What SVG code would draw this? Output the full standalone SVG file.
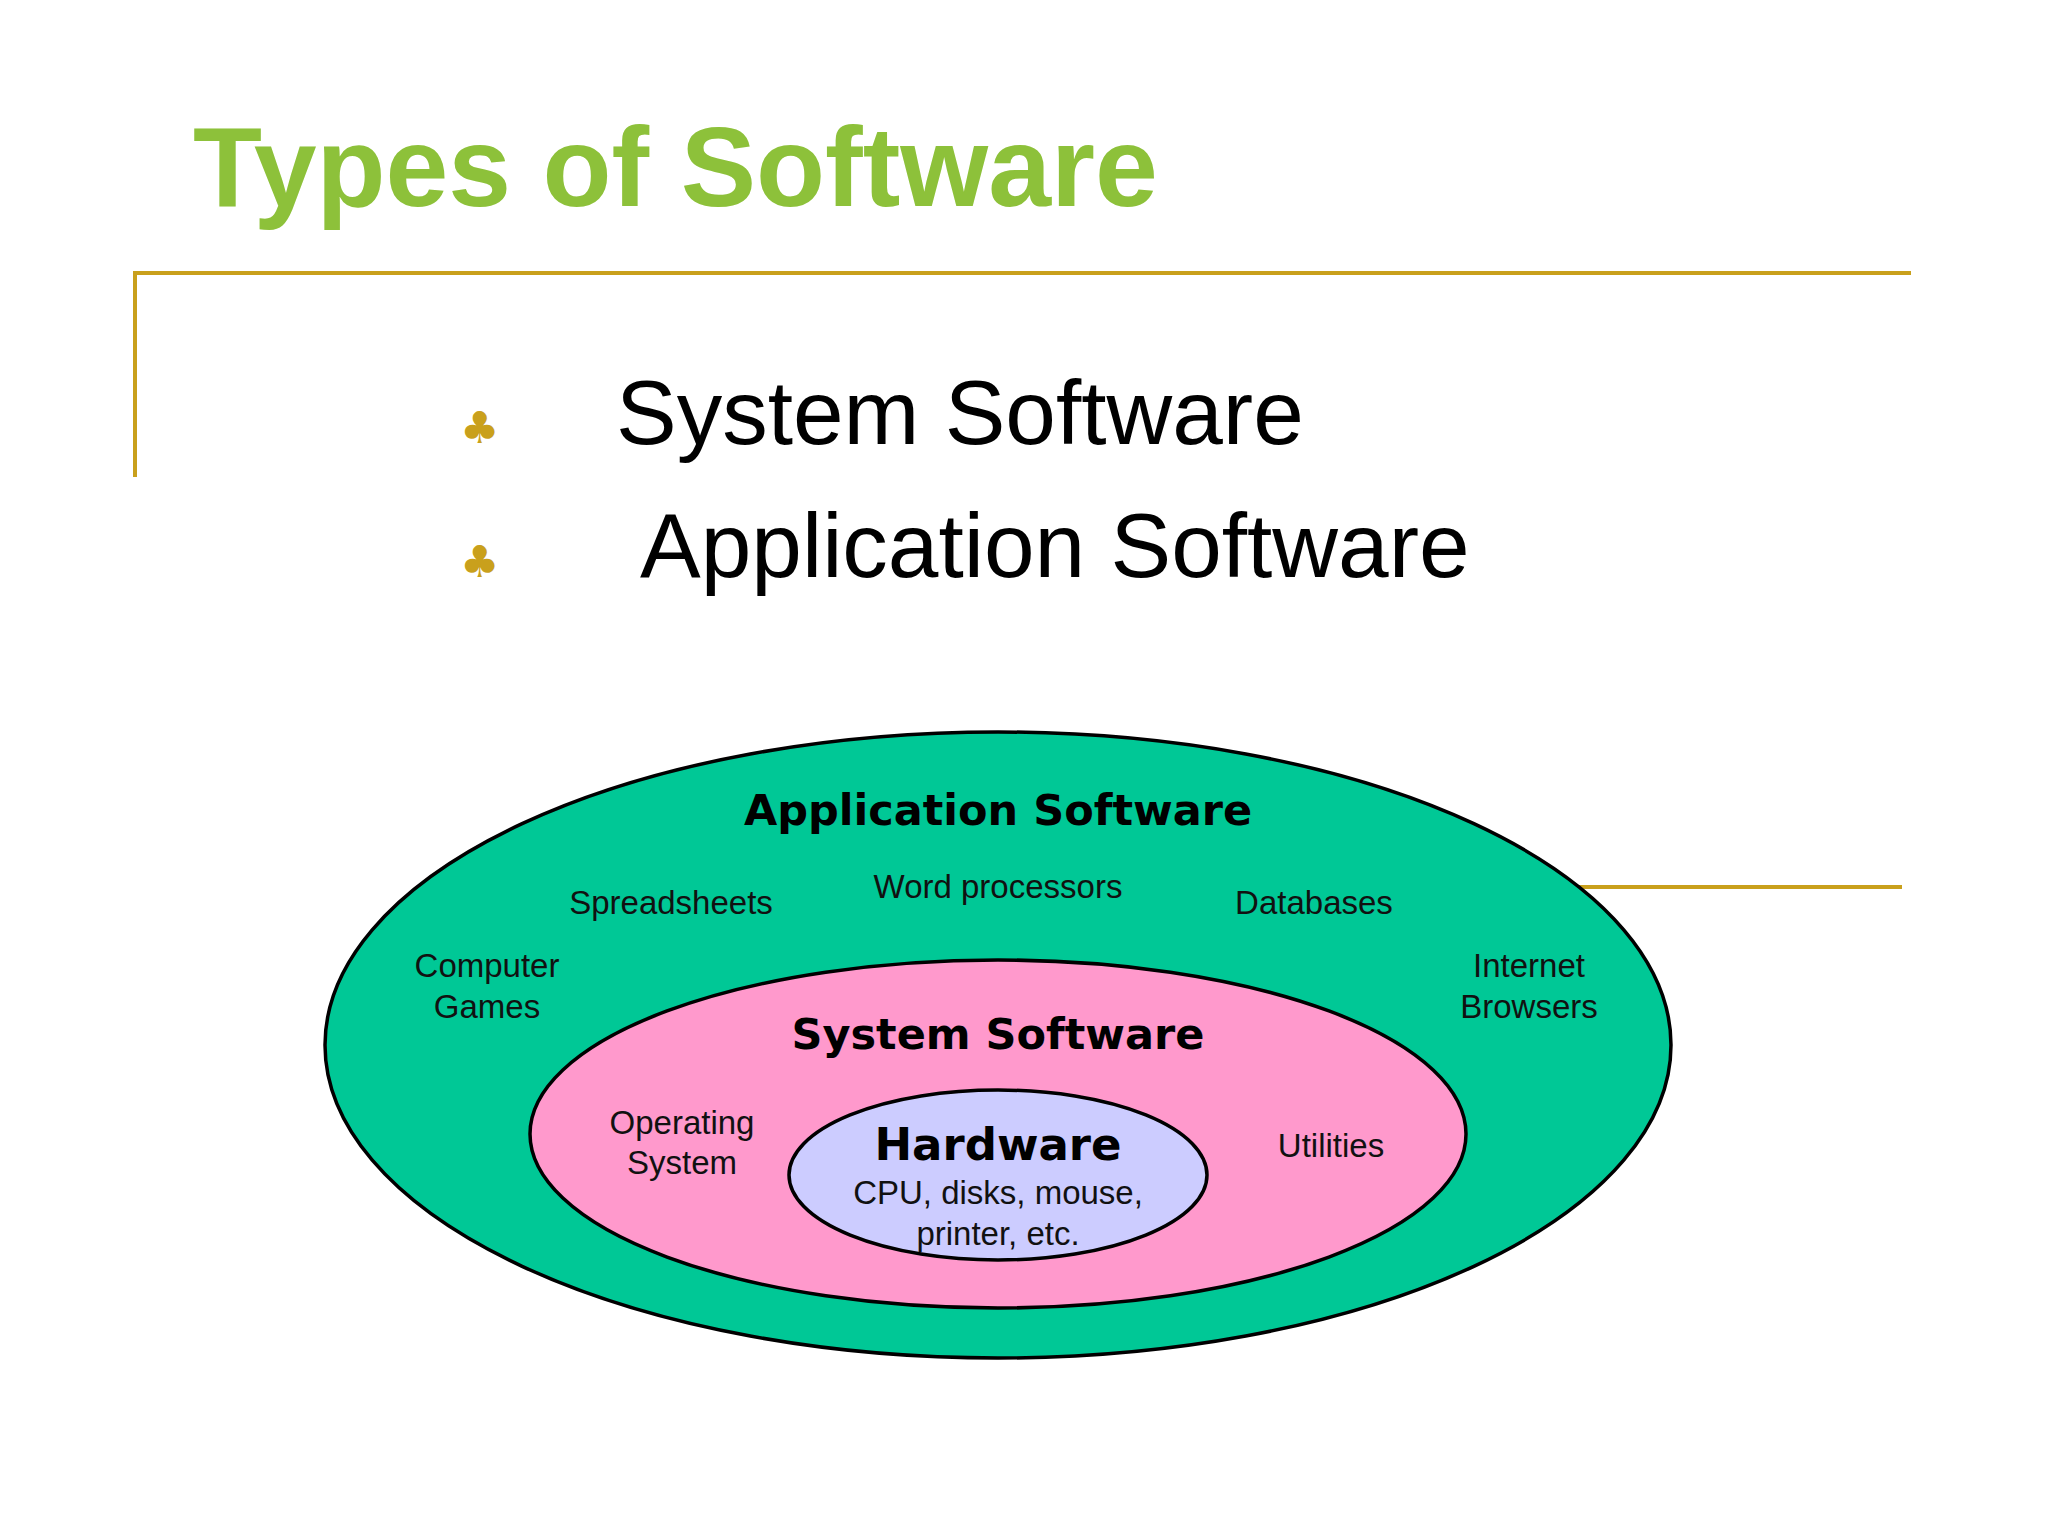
<svg xmlns="http://www.w3.org/2000/svg" width="2048" height="1536" viewBox="0 0 2048 1536">
<style>
.gold{stroke:#c9a01c;stroke-width:4;fill:none}
.ell{stroke:#000;stroke-width:3.5}
.lbl{font-family:"Liberation Sans",Arial,sans-serif;font-size:33px;fill:#111;text-anchor:middle}
.hd{font-family:"DejaVu Sans",sans-serif;font-weight:bold;fill:#000;text-anchor:middle}
.bul{font-family:"DejaVu Sans",sans-serif;font-size:44px;fill:#c9a01c}
.big{font-family:"Liberation Sans",Arial,sans-serif;font-size:91px;fill:#000}
</style>
<rect width="2048" height="1536" fill="#fff"/>
<text x="193" y="206" font-family="Liberation Sans,Arial,sans-serif" font-weight="bold" font-size="113" fill="#8dc13a">Types of Software</text>
<path class="gold" d="M135 477V273H1911"/>
<text class="bul" x="460" y="443">♣</text>
<text class="bul" x="460" y="577">♣</text>
<text class="big" x="616" y="444">System Software</text>
<text class="big" x="640" y="577">Application Software</text>
<line class="gold" x1="1560" y1="887" x2="1902" y2="887"/>
<g id="app">
<ellipse class="ell" cx="998" cy="1045" rx="673" ry="313" fill="#00c896"/>
<text class="hd" x="998" y="825" font-size="43">Application Software</text>
<text class="lbl" x="671" y="914">Spreadsheets</text>
<text class="lbl" x="998" y="898">Word processors</text>
<text class="lbl" x="1314" y="914">Databases</text>
<text class="lbl" x="487" y="977">Computer</text>
<text class="lbl" x="487" y="1018">Games</text>
<text class="lbl" x="1529" y="977">Internet</text>
<text class="lbl" x="1529" y="1018">Browsers</text>
</g>
<g id="sys">
<ellipse class="ell" cx="998" cy="1134" rx="468" ry="174" fill="#ff99cc"/>
<text class="hd" x="998" y="1049" font-size="43">System Software</text>
<text class="lbl" x="682" y="1134">Operating</text>
<text class="lbl" x="682" y="1174">System</text>
<text class="lbl" x="1331" y="1157">Utilities</text>
</g>
<g id="hw">
<ellipse class="ell" cx="998" cy="1175" rx="209" ry="85" fill="#ccccff"/>
<text class="hd" x="998" y="1160" font-size="45">Hardware</text>
<text class="lbl" x="998" y="1204">CPU, disks, mouse,</text>
<text class="lbl" x="998" y="1245">printer, etc.</text>
</g>
</svg>
